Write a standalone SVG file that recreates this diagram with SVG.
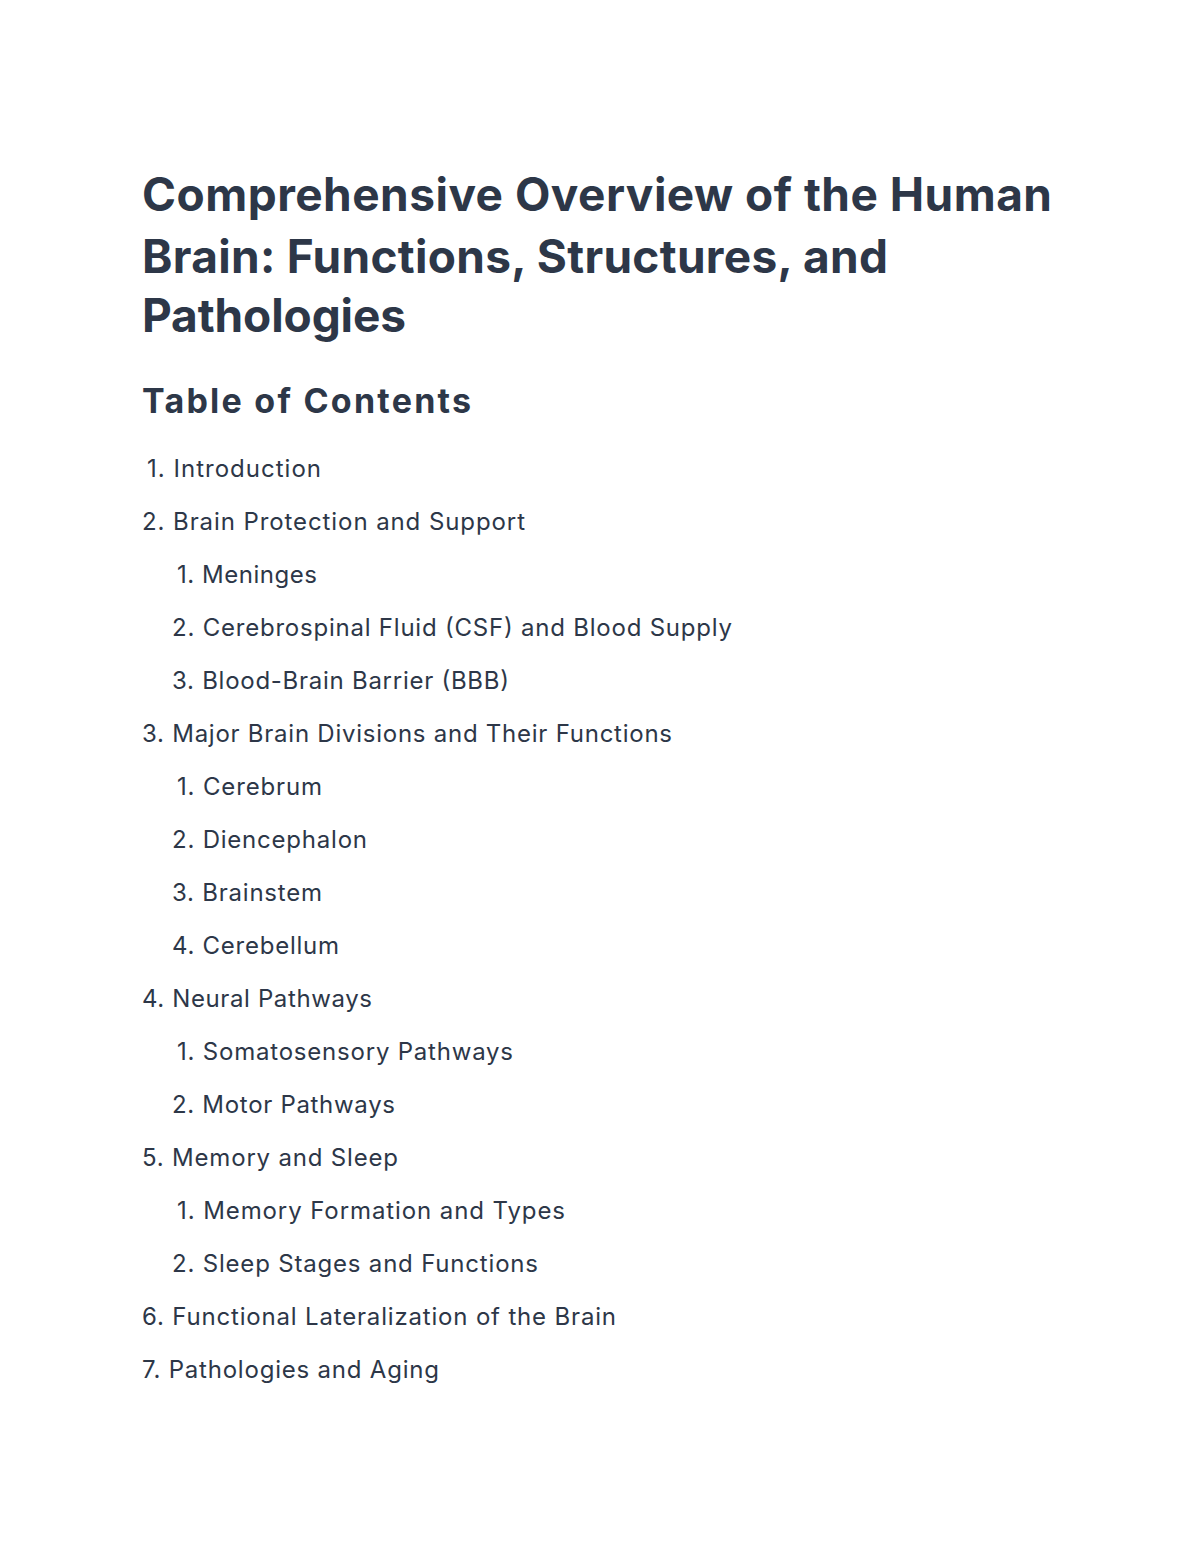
<svg xmlns="http://www.w3.org/2000/svg" width="1200" height="1553" viewBox="0 0 1200 1553">
<style>
.t{font-family:"Inter","Liberation Sans",sans-serif;font-weight:700;fill:#2d3748}
.h1{font-size:46px}
.h2{font-size:34px}
.li{font-family:"Inter","Liberation Sans",sans-serif;font-size:24px;fill:#2d3748}
</style>
<rect width="1200" height="1553" fill="#fff"/>
<text class="t h1" x="142" y="211" textLength="910" lengthAdjust="spacing">Comprehensive Overview of the Human</text>
<text class="t h1" x="142" y="273" textLength="746" lengthAdjust="spacing">Brain: Functions, Structures, and</text>
<text class="t h1" x="142" y="332" textLength="264" lengthAdjust="spacing">Pathologies</text>
<text class="t h2" x="142" y="413" textLength="329" lengthAdjust="spacing">Table of Contents</text>
<g class="li">
<text x="147" y="477" textLength="174" lengthAdjust="spacing">1. Introduction</text>
<text x="142" y="530" textLength="383" lengthAdjust="spacing">2. Brain Protection and Support</text>
<text x="177" y="583" textLength="140" lengthAdjust="spacing">1. Meninges</text>
<text x="172" y="636" textLength="560" lengthAdjust="spacing">2. Cerebrospinal Fluid (CSF) and Blood Supply</text>
<text x="172" y="689" textLength="337" lengthAdjust="spacing">3. Blood-Brain Barrier (BBB)</text>
<text x="142" y="742" textLength="530" lengthAdjust="spacing">3. Major Brain Divisions and Their Functions</text>
<text x="177" y="795" textLength="145" lengthAdjust="spacing">1. Cerebrum</text>
<text x="172" y="848" textLength="195" lengthAdjust="spacing">2. Diencephalon</text>
<text x="172" y="901" textLength="150" lengthAdjust="spacing">3. Brainstem</text>
<text x="172" y="954" textLength="167" lengthAdjust="spacing">4. Cerebellum</text>
<text x="142" y="1007" textLength="230" lengthAdjust="spacing">4. Neural Pathways</text>
<text x="177" y="1060" textLength="336" lengthAdjust="spacing">1. Somatosensory Pathways</text>
<text x="172" y="1113" textLength="223" lengthAdjust="spacing">2. Motor Pathways</text>
<text x="142" y="1166" textLength="256" lengthAdjust="spacing">5. Memory and Sleep</text>
<text x="177" y="1219" textLength="388" lengthAdjust="spacing">1. Memory Formation and Types</text>
<text x="172" y="1272" textLength="366" lengthAdjust="spacing">2. Sleep Stages and Functions</text>
<text x="142" y="1325" textLength="474" lengthAdjust="spacing">6. Functional Lateralization of the Brain</text>
<text x="142" y="1378" textLength="297" lengthAdjust="spacing">7. Pathologies and Aging</text>
</g>
</svg>
